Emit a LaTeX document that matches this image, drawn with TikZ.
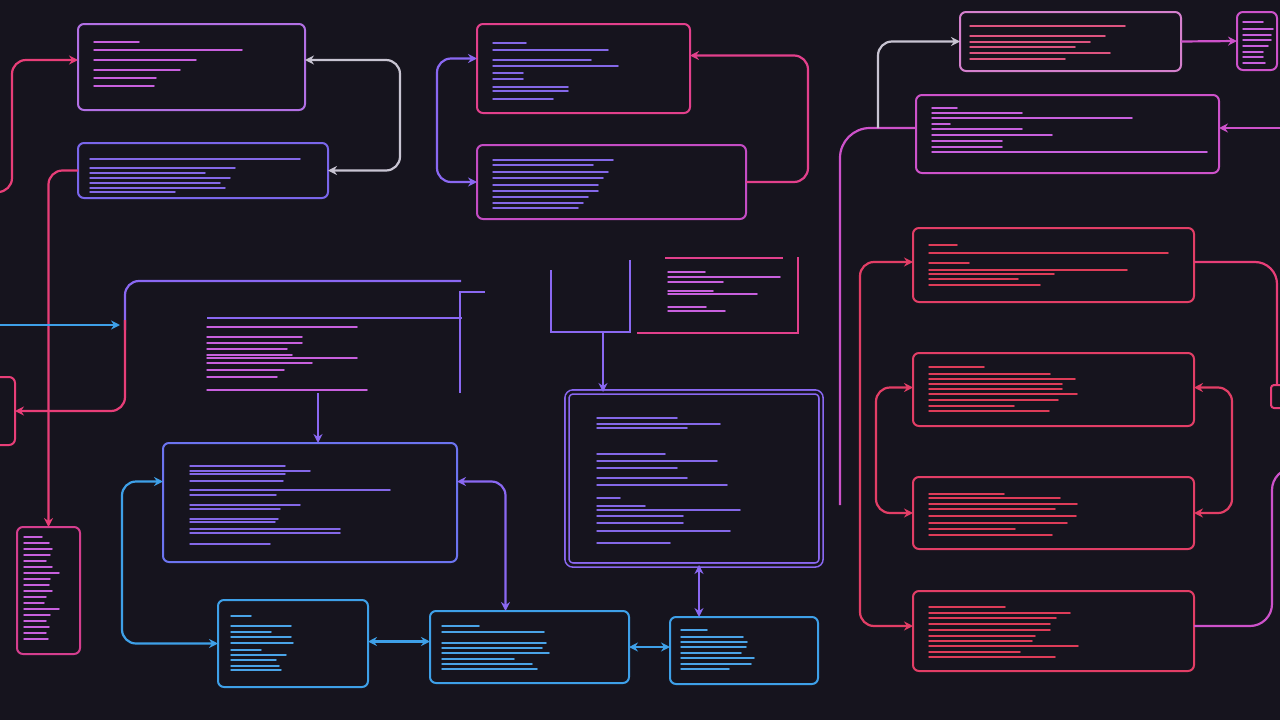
\documentclass[tikz,border=0pt]{standalone}
\usetikzlibrary{arrows.meta}
\definecolor{bg}{RGB}{22,20,30}
\definecolor{cA}{RGB}{178,112,228}
\definecolor{cB}{RGB}{122,102,235}
\definecolor{cC}{RGB}{226,64,140}
\definecolor{cD}{RGB}{196,76,196}
\definecolor{cE}{RGB}{212,128,205}
\definecolor{cG}{RGB}{205,82,202}
\definecolor{cI}{RGB}{212,62,142}
\definecolor{cM}{RGB}{138,104,242}
\definecolor{cN}{RGB}{108,116,240}
\definecolor{cBlue}{RGB}{62,160,232}
\definecolor{cRed}{RGB}{226,62,102}
\definecolor{cPink}{RGB}{232,62,120}
\definecolor{cGrey}{RGB}{200,196,210}
\definecolor{tA}{RGB}{200,96,222}
\definecolor{tV}{RGB}{132,104,232}
\definecolor{tR}{RGB}{222,60,88}
\definecolor{tE}{RGB}{222,84,128}
\definecolor{tB}{RGB}{74,164,232}

\tikzset{
  box/.style={draw, rounded corners=6pt, line width=2pt, inner sep=0pt, outer sep=0pt},
  conn/.style={line width=2.2pt, rounded corners=14pt},
  txtline/.style={line width=1.5pt, line cap=round},
  tip/.style={-{Stealth[length=9pt,width=9pt,inset=3pt]}},
  tips/.style={{Stealth[length=9pt,width=9pt,inset=3pt]}-{Stealth[length=9pt,width=9pt,inset=3pt]}},
}
% pseudo text: start point, colour, x offset, dy/length pairs
\newcommand{\glines}[4]{%
  \foreach \dy/\ll in {#4}
    \draw[txtline,#2] ([shift={(#3,\dy)}]#1) -- ++(\ll,0);}

\begin{document}
\begin{tikzpicture}[x=1pt,y=-1pt]
\fill[bg] (0,0) rectangle (1280,720);
\useasboundingbox (0,0) rectangle (1280,720);

% boxes
\node[box,draw=cA,minimum width=227pt,minimum height=86pt] (A) at (191.5,67) {};
\node[box,draw=cB,minimum width=250pt,minimum height=55pt] (B) at (203,170.5) {};
\node[box,draw=cC,minimum width=213pt,minimum height=89pt] (C) at (583.5,68.5) {};
\node[box,draw=cD,minimum width=269pt,minimum height=74pt] (D) at (611.5,182) {};
\node[box,draw=cE,minimum width=221pt,minimum height=59pt] (E) at (1070.5,41.5) {};
\node[box,draw=cG,minimum width=40pt,minimum height=58pt] (F) at (1257,41) {};
\node[box,draw=cG,minimum width=303pt,minimum height=78pt] (G) at (1067.5,134) {};
\node[box,draw=cPink,minimum width=25pt,minimum height=68pt] (H) at (2.5,411) {};
\node[box,draw=cI,minimum width=63pt,minimum height=127pt] (I) at (48.5,590.5) {};
\node[box,draw=cM,double=bg,double distance=2.5pt,line width=1.6pt,minimum width=254pt,minimum height=173pt] (M) at (694,478.5) {};
\node[box,draw=cN,minimum width=294pt,minimum height=119pt] (N) at (310,502.5) {};
\node[box,draw=cBlue,minimum width=150pt,minimum height=87pt] (O) at (293,643.5) {};
\node[box,draw=cBlue,minimum width=199pt,minimum height=72pt] (P) at (529.5,647) {};
\node[box,draw=cBlue,minimum width=148pt,minimum height=67pt] (Q) at (744,650.5) {};
\node[box,draw=cRed,minimum width=281pt,minimum height=74pt] (R1) at (1053.5,265) {};
\node[box,draw=cRed,minimum width=281pt,minimum height=73pt] (R2) at (1053.5,389.5) {};
\node[box,draw=cRed,minimum width=281pt,minimum height=72pt] (R3) at (1053.5,513) {};
\node[box,draw=cRed,minimum width=281pt,minimum height=80pt] (R4) at (1053.5,631) {};
\node[box,draw=cPink,rounded corners=3pt,minimum width=12pt,minimum height=23pt] (sb) at (1277,396.5) {};

% open frames in the middle
\coordinate (jl) at (125,281);
\coordinate (jr) at (461,281);
\coordinate (jx) at (207,318);
\coordinate (jb) at (318,393);
\coordinate (kb) at (603,333);
\draw[cM,line width=2pt] (jx) -- (462,318);
\draw[cM,line width=2pt] (485,292) -- (460,292) -- (460,393);
\draw[cM,line width=2pt] (551,270) -- (551,332) -- (630,332) -- (630,260);
\draw[cC,line width=2pt] (637,333) -- (798,333) -- (798,257);
\draw[cC,line width=2pt] (665,258) -- (783,258);

% pseudo text
\glines{A.north west}{tA}{16}{18/45,26/148,36/102,46/86,54/62,62/60}
\glines{B.north west}{tV}{12}{16/210,25/145,30/115,35/140,40/130,45/135,49/85}
\glines{C.north west}{tV}{16}{19/33,26/115,36/98,42/125,49/30,55/30,63/75,67/75,75/60}
\glines{D.north west}{tV}{16}{15/120,20/100,27/115,33/110,40/105,46/105,52/95,58/90,63/85}
\glines{E.north west}{tE}{10}{14/155,24/135,30/120,35/105,41/140,47/95}
\glines{F.north west}{tA}{6}{10/20,17/30,23/28,28/28,34/25,40/20,45/20,51/22}
\glines{G.north west}{tA}{16}{13/25,18/90,23/200,29/18,34/90,40/120,46/70,52/70,57/275}
\glines{I.north west}{tA}{7}{10/18,16/25,22/28,28/26,34/22,40/28,46/35,52/26,58/25,64/28,70/22,76/20,82/35,88/26,94/22,100/25,106/22,112/24}
\glines{M.north west}{tV}{30}{26/80,32/123,36/90,62/68,69/120,76/80,86/90,93/130,106/23,114/48,118/143,124/86,131/86,139/133,151/73}
\glines{N.north west}{tV}{27}{23/95,28/120,31/95,38/93,47/200,52/86,62/110,66/90,76/88,79/85,86/150,90/150,101/80}
\glines{O.north west}{tB}{13}{16/20,26/60,32/40,37/60,43/62,50/30,55/55,60/45,66/48,70/50}
\glines{P.north west}{tB}{12}{15/37,21/102,32/104,37/100,42/107,48/72,53/90,58/95}
\glines{Q.north west}{tB}{11}{13/26,20/62,25/66,30/65,36/60,41/73,47/70,52/48}
\glines{R1.north west}{tR}{16}{17/28,25/239,35/40,42/198,46/125,51/89,57/111}
\glines{R2.north west}{tR}{16}{14/55,21/121,26/146,31/133,36/133,41/148,47/129,53/85,58/120}
\glines{R3.north west}{tR}{16}{17/75,21/131,27/148,32/126,39/147,46/138,52/86,58/123}
\glines{R4.north west}{tR}{16}{16/76,22/141,27/127,33/121,39/121,45/106,50/103,55/149,61/91,66/126}
\glines{jx}{tA}{0}{9/150,19/95,25/95,31/80,37/85,40/150,45/105,52/77,59/70,72/160}
\glines{kb}{tA}{65}{-61/37,-56/112,-51/55,-42/45,-39/89,-26/38,-22/57}

% connectors, top left
\coordinate (la) at (0,192);
\draw[conn,cPink,tip] (la) -- (12,192) |- ([yshift=7pt]A.west);
\draw[conn,cPink,tip] (B.west) -| (I.north);
\draw[conn,cGrey,tips] ([yshift=7pt]A.east) -- ++(95,0) |- (B.east);
\draw[conn,cM,tips] ([yshift=10pt]C.west) -- ++(-40,0) |- (D.west);
\draw[conn,cC,tip] (D.east) -- ++(62,0) |- ([yshift=13pt]C.east);

% connectors, top right
\coordinate (gs) at (840,505);
\coordinate (gj) at (878,128);
\coordinate (ge) at (1280,128);
\draw[conn,cG,rounded corners=30pt] (gs) |- ([yshift=6pt]G.west);
\draw[conn,cGrey,tip] (gj) |- (E.west);
\draw[conn,cG,tip] (E.east) -- (F.west);
\draw[conn,cG,tip] (ge) -- ([yshift=6pt]G.east);

% connectors, middle left
\coordinate (bl) at (0,325);
\draw[conn,cBlue,tip] (bl) -- (120,325);
\draw[conn,cM] (jr) -- (jl) -- (125,330);
\draw[conn,cPink,tip] (125,320) |- (H.east);
\draw[conn,cM,tip] (jb) -- (jb |- N.north);
\draw[conn,cM,tip] (kb) -- (kb |- M.north);

% connectors, bottom
\draw[conn,cM,tips] ([yshift=21pt]N.east) -| ([xshift=-24pt]P.north);
\draw[conn,cBlue,tips] ([yshift=21pt]N.west) -- ++(-41,0) |- (O.west);
\draw[conn,cBlue,tips] ([yshift=2pt]O.east) -- ([yshift=2pt]O.east -| P.west);
\draw[conn,cBlue,tips] (P.east) -- (P.east -| Q.west);
\draw[conn,cM,tips] ([xshift=5pt]M.south) -- ([xshift=5pt]M.south |- Q.north);

% connectors, right column
\coordinate (re) at (1290,468);
\draw[conn,cRed,tips] ([yshift=3pt]R1.west) -- ++(-53,0) |- ([yshift=5pt]R4.west);
\draw[conn,cRed,tips] ([yshift=2pt]R2.west) -- ++(-37,0) |- (R3.west);
\draw[conn,cRed,tips] ([yshift=2pt]R2.east) -- ++(38,0) |- (R3.east);
\draw[conn,cPink,rounded corners=22pt] ([yshift=3pt]R1.east) -| (sb.north);
\draw[conn,cG,rounded corners=22pt] ([yshift=5pt]R4.east) -- (1272,626) -- (1272,468) -- (re);
\end{tikzpicture}
\end{document}
